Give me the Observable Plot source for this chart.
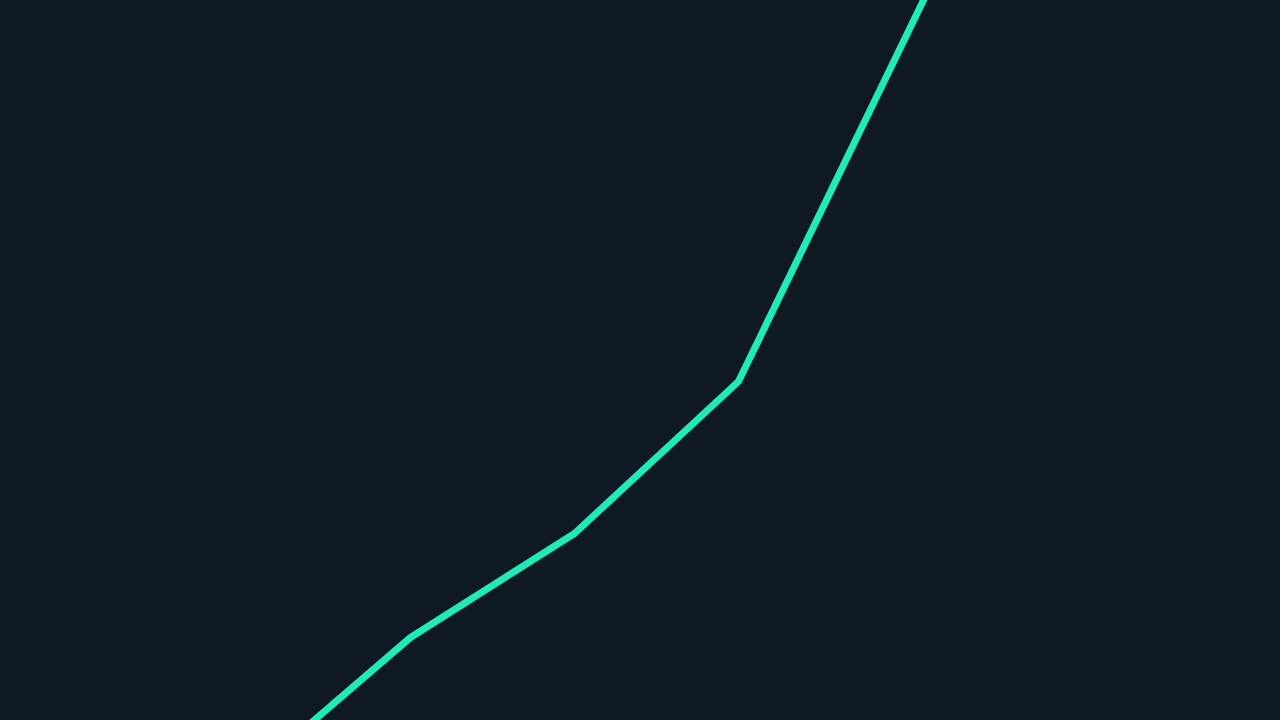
<!DOCTYPE html>
<html>
<head>
<meta charset="utf-8">
<script src="https://cdn.jsdelivr.net/npm/d3@7"></script>
<script src="https://cdn.jsdelivr.net/npm/@observablehq/plot@0.6"></script>
<style>
  html, body { margin: 0; padding: 0; background: #0e1921; overflow: hidden; }
  #chart svg { display: block; }
</style>
</head>
<body>
<div id="chart"></div>
<script>
const steps = [0, 1, 2, 3, 4, 5];
const values = [-58, 83, 187, 339, 677, 1015];

const data = steps.map((s, i) => ({ step: s, value: values[i] }));

const chart = Plot.plot({
  width: 1280,
  height: 720,
  margin: 0,
  style: { background: "#0e1921" },
  x: { domain: [-1.5, 6.305], axis: null },
  y: { domain: [0, 720], axis: null },
  marks: [
    Plot.line(data, {
      x: "step",
      y: "value",
      stroke: "#1eebb8",
      strokeWidth: 7,
      strokeLinejoin: "round",
      strokeLinecap: "round",
      clip: true
    })
  ]
});
document.getElementById("chart").appendChild(chart);
</script>
</body>
</html>
